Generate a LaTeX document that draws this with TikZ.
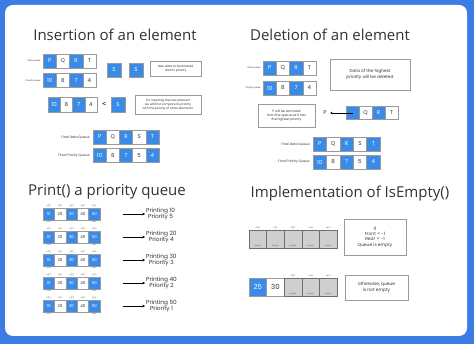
\documentclass[tikz,border=0pt]{standalone}
\usepackage{fontspec}
\setmainfont{Open Sans}
\newfontfamily\cellfont{Poppins}
\usetikzlibrary{arrows.meta,positioning}
\definecolor{cFrame}{HTML}{3D7BE4}
\definecolor{cBlue}{HTML}{3A8AE8}
\definecolor{cLine}{HTML}{9A9A9A}
\definecolor{cText}{HTML}{333333}
\definecolor{cGrayF}{HTML}{CFCFCF}
\definecolor{cGrayD}{HTML}{6E6E6E}

\tikzset{
  title/.style={text=cText, font=\fontsize{15}{17}\selectfont},
  cell/.style={draw=cLine, minimum width=13.25pt, minimum height=14pt, inner sep=0pt,
    font=\cellfont\fontsize{5.5}{6}\selectfont},
  cellB/.style={cell, fill=cBlue, text=white},
  cellW/.style={cell, fill=white, text=cText},
  note/.style={draw=cLine, fill=white, align=center, inner sep=1pt, text=cText,
    font=\cellfont\fontsize{3}{3.8}\selectfont},
  lbl/.style={text=cText, inner sep=1pt, font=\cellfont\fontsize{2.2}{2.6}\selectfont},
  flbl/.style={text=cText, inner sep=1pt, font=\cellfont\fontsize{3.3}{4}\selectfont},
  tiny/.style={text=cText!80, inner sep=0pt, font=\cellfont\fontsize{2}{2.4}\selectfont}
}

\begin{document}
\begin{tikzpicture}[x=1pt, y=-1pt, >={Stealth[length=2.5pt, width=2.5pt]}]
  \fill[cFrame] (0,0) rectangle (474,344);
  \fill[white, rounded corners=8pt] (5,5) rectangle (467,336);
  \useasboundingbox (0,0) rectangle (474,344);

  % insertion
  \node[title] (tIns) at (115,35) {Insertion of an element};
  \foreach \t/\s [count=\i] in {P/cellB,Q/cellW,R/cellB,T/cellW}
    \node[\s] (insD\i) at ({43+13.25*(\i-0.5)},61) {\t};
  \foreach \t/\s [count=\i] in {10/cellB,8/cellW,7/cellB,4/cellW}
    \node[\s] (insP\i) at ({43+13.25*(\i-0.5)},80.5) {\t};
  \node[lbl, left=1pt of insD1] (insDl) {Data queue};
  \node[lbl, left=1pt of insP1] (insPl) {Priority queue};
  \node[cellB, minimum width=14pt] (insS1) at (114,70) {S};
  \node[cellB, minimum width=14pt] (insS2) at (136,70) {S};
  \node[note, minimum width=51pt, minimum height=15pt] (insN1) at (175.5,68.5)
    {New data to be entered\\and its priority};
  \foreach \t/\s [count=\i] in {10/cellB,8/cellW,7/cellB,4/cellW}
    \node[\s, minimum width=12.25pt, minimum height=15pt] (insC\i) at ({48+12.25*(\i-0.5)},104.5) {\t};
  \node[text=cText, font=\bfseries\fontsize{7}{7}\selectfont] (insLt) at (104,104.5) {<};
  \node[cellB, minimum width=14pt, minimum height=15pt] (insS3) at (118,104.5) {S};
  \node[note, minimum width=66pt, minimum height=19pt] (insN2) at (168,104.5)
    {For inserting the new element\\we will first compare its priority\\with the priority of other elements.};
  \foreach \t/\s [count=\i] in {P/cellB,Q/cellW,R/cellB,S/cellW,T/cellB}
    \node[\s, minimum width=13.2pt] (insFD\i) at ({93+13.2*(\i-0.5)},137) {\t};
  \foreach \t/\s [count=\i] in {10/cellB,8/cellW,7/cellB,5/cellW,4/cellB}
    \node[\s, minimum width=13.2pt] (insFP\i) at ({93+13.2*(\i-0.5)},155.5) {\t};
  \node[flbl, left=2pt of insFD1] (insFDl) {Final Data Queue};
  \node[flbl, left=2pt of insFP1] (insFPl) {Final Priority Queue};

  % deletion
  \node[title] (tDel) at (330,35) {Deletion of an element};
  \foreach \t/\s [count=\i] in {P/cellB,Q/cellW,R/cellB,T/cellW}
    \node[\s] (delD\i) at ({263+13.25*(\i-0.5)},68) {\t};
  \foreach \t/\s [count=\i] in {10/cellB,8/cellW,7/cellB,4/cellW}
    \node[\s] (delP\i) at ({263+13.25*(\i-0.5)},88) {\t};
  \node[lbl, left=1pt of delD1] (delDl) {Data queue};
  \node[lbl, left=1pt of delP1] (delPl) {Priority queue};
  \node[note, minimum width=80pt, minimum height=31pt, font=\cellfont\fontsize{4.3}{5.4}\selectfont]
    (delN1) at (370,74.5) {Data of the highest\\priority will be deleted};
  \node[note, minimum width=57pt, minimum height=23pt, font=\cellfont\fontsize{3.2}{3.9}\selectfont]
    (delN2) at (286.5,115.5) {P will be removed\\from the queue as it has\\the highest priority};
  \foreach \t/\s [count=\i] in {{}/cellB,Q/cellW,R/cellB,T/cellW}
    \node[\s, minimum width=13pt, minimum height=13pt] (delC\i) at ({346+13*(\i-0.5)},113) {\t};
  \node[text=cText, font=\cellfont\fontsize{5.5}{6}\selectfont] (delOut) at (325,113) {P};
  \draw[->, black, line width=0.7pt] (delC1.center) -- (delOut.east);
  \foreach \t/\s [count=\i] in {P/cellB,Q/cellW,R/cellB,S/cellW,T/cellB}
    \node[\s, minimum width=13.4pt] (delFD\i) at ({313+13.4*(\i-0.5)},144) {\t};
  \foreach \t/\s [count=\i] in {10/cellB,8/cellW,7/cellB,5/cellW,4/cellB}
    \node[\s, minimum width=13.4pt] (delFP\i) at ({313+13.4*(\i-0.5)},162) {\t};
  \node[flbl, left=2pt of delFD1] (delFDl) {Final Data Queue};
  \node[flbl, left=2pt of delFP1] (delFPl) {Final Priority Queue};

  % print
  \node[title] (tPrt) at (107,192) {Print() a priority queue};
  \foreach \y/\v/\p [count=\r] in {214/10/5,237/20/4,260/30/3,283/40/2,306/50/1} {
    \foreach \t/\s [count=\i] in {10/cellB,20/cellW,30/cellB,40/cellW,50/cellB} {
      \node[\s, minimum width=11.4pt, minimum height=12pt, font=\cellfont\fontsize{4}{4}\selectfont]
        (prt\r c\i) at ({43+11.4*(\i-0.5)},\y) {\t};
      \pgfmathtruncatemacro{\k}{\i-1}
      \node[tiny, above=0.8pt of prt\r c\i] (prt\r a\i) {a[\k]};
    }
    \node[tiny, below=0.8pt of prt\r c1] (prt\r f) {front};
    \node[tiny, below=0.8pt of prt\r c5] (prt\r b) {rear};
    \coordinate (prt\r s) at (123,\y);
    \node[anchor=west, align=center, text=cText, inner sep=1pt,
      font=\cellfont\fontsize{5.8}{6.6}\selectfont] (prt\r t) at (145,\y) {Printing \v\\Priority \p};
    \draw[->, black, line width=0.5pt] (prt\r s) -- (prt\r t.west);
  }

  % isempty
  \node[title] (tEmp) at (350,194) {Implementation of IsEmpty()};
  \foreach \i in {1,...,5} {
    \node[cell, fill=cGrayF, draw=cGrayD, line width=0.6pt, minimum width=17.6pt, minimum height=18pt]
      (emA\i) at ({249+17.6*(\i-0.5)},239) {};
    \pgfmathtruncatemacro{\k}{\i-1}
    \node[tiny, above=1pt of emA\i] (emAa\i) {a[\k]};
    \node[tiny, above=0.8pt] (emAe\i) at (emA\i.south) {empty};
  }
  \node[note, minimum width=62pt, minimum height=36pt, font=\cellfont\fontsize{4.4}{5.4}\selectfont]
    (emN1) at (375,237) {If\\Front = -1\\Rear = -1\\Queue is empty};
  \node[cellB, minimum width=17.6pt, minimum height=18pt, font=\cellfont\fontsize{7}{7}\selectfont]
    (emB1) at ({249+17.6*0.5},287) {25};
  \node[cellW, minimum width=17.6pt, minimum height=18pt, font=\cellfont\fontsize{7}{7}\selectfont]
    (emB2) at ({249+17.6*1.5},287) {30};
  \foreach \i in {3,4,5} {
    \node[cell, fill=cGrayF, draw=cGrayD, line width=0.6pt, minimum width=17.6pt, minimum height=18pt]
      (emB\i) at ({249+17.6*(\i-0.5)},287) {};
    \pgfmathtruncatemacro{\k}{\i-1}
    \node[tiny, above=1pt of emB\i] (emBa\i) {a[\k]};
    \node[tiny, above=0.8pt] (emBe\i) at (emB\i.south) {empty};
  }
  \node[note, minimum width=63pt, minimum height=25pt, font=\cellfont\fontsize{4.4}{5.4}\selectfont]
    (emN2) at (376.5,287.5) {otherwise, queue\\is not empty};
\end{tikzpicture}
\end{document}
